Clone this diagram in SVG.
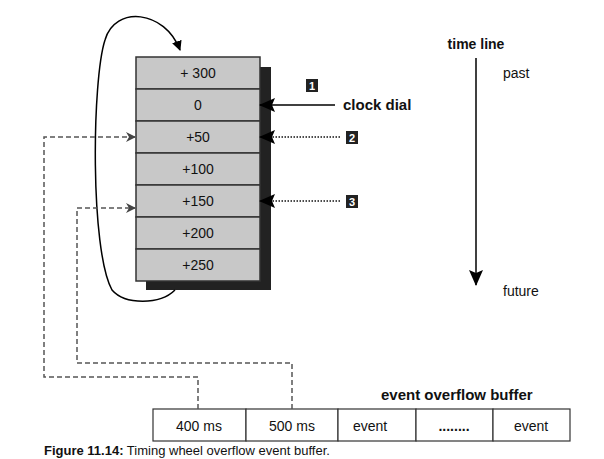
<svg xmlns="http://www.w3.org/2000/svg" width="604" height="459" viewBox="0 0 604 459">
<style>
text{font-family:"Liberation Sans",Arial,sans-serif;font-size:14px;fill:#111}
.b{font-weight:bold}
.row{fill:#c8c8c8;stroke:#333;stroke-width:1.5}
.cell{fill:#fff;stroke:#333;stroke-width:1.2}
.dash{fill:none;stroke:#555;stroke-width:1.5;stroke-dasharray:5,3}
.dot{fill:none;stroke:#111;stroke-width:1.5;stroke-dasharray:1.5,1.5}
</style>
<defs>
<marker id="ah" markerWidth="10" markerHeight="10" refX="9" refY="5" orient="auto" markerUnits="userSpaceOnUse"><path d="M0,0L10,5L0,10z" fill="#000"/></marker>
<marker id="ag" markerWidth="10" markerHeight="10" refX="9" refY="5" orient="auto" markerUnits="userSpaceOnUse"><path d="M0,0L10,5L0,10L3,5z" fill="#444"/></marker>
<marker id="big" markerWidth="16" markerHeight="14" refX="15" refY="7" orient="auto" markerUnits="userSpaceOnUse"><path d="M0,0L16,7L0,14L3,7z" fill="#000"/></marker>
</defs>
<rect x="146" y="67" width="125" height="223" fill="#222"/>
<g id="wheel">
<g id="r300"><rect class="row" x="136" y="57" width="124" height="32"/><text x="198" y="78" text-anchor="middle">+ 300</text></g>
<g id="r0"><rect class="row" x="136" y="89" width="124" height="32"/><text x="198" y="110" text-anchor="middle">0</text></g>
<g id="r50"><rect class="row" x="136" y="121" width="124" height="32"/><text x="198" y="142" text-anchor="middle">+50</text></g>
<g id="r100"><rect class="row" x="136" y="153" width="124" height="32"/><text x="198" y="174" text-anchor="middle">+100</text></g>
<g id="r150"><rect class="row" x="136" y="185" width="124" height="32"/><text x="198" y="206" text-anchor="middle">+150</text></g>
<g id="r200"><rect class="row" x="136" y="217" width="124" height="32"/><text x="198" y="238" text-anchor="middle">+200</text></g>
<g id="r250"><rect class="row" x="136" y="249" width="124" height="32"/><text x="198" y="270" text-anchor="middle">+250</text></g>
</g>
<g id="labels">
<rect x="306" y="79" width="12" height="13" fill="#222"/><text x="312" y="90" text-anchor="middle" style="fill:#fff;font-size:11px" class="b">1</text>
<rect x="346" y="131" width="12" height="13" fill="#222"/><text x="352" y="142" text-anchor="middle" style="fill:#fff;font-size:11px" class="b">2</text>
<rect x="346" y="195" width="12" height="13" fill="#222"/><text x="352" y="206" text-anchor="middle" style="fill:#fff;font-size:11px" class="b">3</text>
<text x="343" y="110" class="b" style="font-size:15px">clock dial</text>
<text x="476" y="49" class="b" text-anchor="middle">time line</text>
<text x="503" y="78">past</text>
<text x="503" y="296">future</text>
<text x="381" y="400" class="b" style="font-size:15px">event overflow buffer</text>
<text x="44" y="455" style="font-size:13px"><tspan class="b">Figure 11.14:</tspan> Timing wheel overflow event buffer.</text>
</g>
<g id="buffer">
<rect class="cell" x="153" y="409" width="93" height="32"/><text x="199" y="431" text-anchor="middle">400 ms</text>
<rect class="cell" x="246" y="409" width="92" height="32"/><text x="292" y="431" text-anchor="middle">500 ms</text>
<rect class="cell" x="338" y="409" width="78" height="32"/><text x="370" y="431" text-anchor="middle">event</text>
<rect class="cell" x="416" y="409" width="77" height="32"/><text x="454" y="431" text-anchor="middle" class="b">........</text>
<rect class="cell" x="493" y="409" width="77" height="32"/><text x="531" y="431" text-anchor="middle">event</text>
</g>
<g id="connectors">
<path d="M175,290 C160,305 125,305 112,290 C90,250 92,80 105,40 C115,5 165,10 180,50" fill="none" stroke="#000" stroke-width="1.5" marker-end="url(#ah)"/>
<line x1="335" y1="105" x2="260" y2="105" stroke="#000" stroke-width="1.5" marker-end="url(#big)"/>
<line x1="340" y1="137" x2="260" y2="137" class="dot" marker-end="url(#big)"/>
<line x1="340" y1="201" x2="260" y2="201" class="dot" marker-end="url(#big)"/>
<path class="dash" d="M198,409V377H44V137H135" marker-end="url(#ag)"/>
<path class="dash" d="M292,409V363H77V208H135" marker-end="url(#ag)"/>
<line x1="476" y1="58" x2="476" y2="285" stroke="#000" stroke-width="1.5" marker-end="url(#big)"/>
</g>
</svg>
